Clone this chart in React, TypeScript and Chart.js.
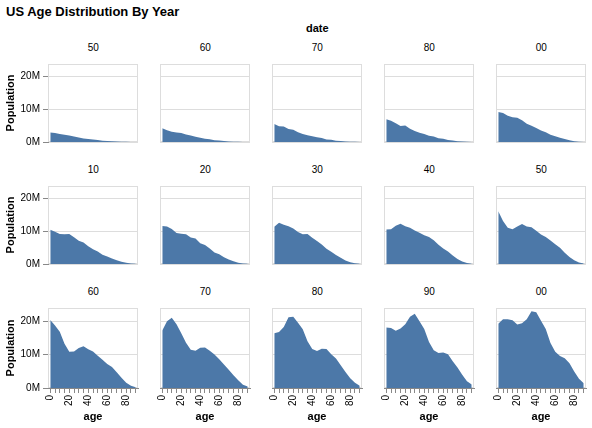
import React, { useEffect, useRef } from "react";
import { Chart, registerables } from "chart.js";

Chart.register(...registerables);

// ---- data (population in millions, summed over sex) ----
const ages = [0, 5, 10, 15, 20, 25, 30, 35, 40, 45, 50, 55, 60, 65, 70, 75, 80, 85, 90];
const yearLabels = ["50", "60", "70", "80", "00", "10", "20", "30", "40", "50", "60", "70", "80", "90", "00"];

const pop1850 = [2.93, 2.77, 2.48, 2.19, 2.02, 1.66, 1.37, 1.09, 0.90, 0.73, 0.61, 0.38, 0.34, 0.21, 0.15, 0.08, 0.046, 0.019, 0.012];
const pop1860 = [4.21, 3.58, 3.15, 2.93, 2.72, 2.33, 1.98, 1.60, 1.32, 1.03, 0.83, 0.54, 0.45, 0.29, 0.19, 0.11, 0.06, 0.027, 0.017];
const pop1870 = [5.52, 4.82, 4.77, 4.02, 3.73, 3.00, 2.45, 2.05, 1.80, 1.42, 1.20, 0.80, 0.67, 0.40, 0.28, 0.16, 0.09, 0.04, 0.02];
const pop1880 = [6.96, 6.48, 5.73, 4.93, 5.06, 4.07, 3.34, 2.82, 2.46, 1.94, 1.72, 1.16, 0.99, 0.64, 0.45, 0.24, 0.14, 0.055, 0.029];
const pop1900 = [9.21, 8.86, 8.06, 7.58, 7.45, 6.63, 5.58, 4.98, 4.27, 3.52, 2.98, 2.23, 1.80, 1.31, 0.89, 0.53, 0.26, 0.09, 0.035];
const pop1910 = [10.48, 9.89, 9.23, 9.12, 9.21, 8.18, 7.10, 6.62, 5.41, 4.51, 3.86, 2.81, 2.31, 1.66, 1.18, 0.71, 0.36, 0.14, 0.05];
const pop1920 = [11.63, 11.48, 10.69, 9.50, 9.29, 9.09, 8.09, 7.80, 6.38, 5.81, 4.75, 3.56, 2.97, 2.09, 1.40, 0.86, 0.40, 0.16, 0.054];
const pop1930 = [11.44, 12.61, 12.00, 11.55, 10.87, 9.83, 9.12, 9.21, 8.06, 7.03, 5.98, 4.65, 3.75, 2.77, 1.93, 1.10, 0.54, 0.20, 0.07];
const pop1940 = [10.54, 10.68, 11.75, 12.33, 11.59, 11.10, 10.24, 9.55, 8.79, 8.26, 7.26, 5.87, 4.73, 3.81, 2.57, 1.50, 0.77, 0.28, 0.09];
const pop1950 = [16.16, 13.20, 11.12, 10.62, 11.48, 12.24, 11.52, 11.25, 10.20, 9.07, 8.27, 7.23, 6.06, 4.98, 3.42, 2.15, 1.13, 0.43, 0.15];
const pop1960 = [20.32, 18.69, 16.77, 13.22, 10.80, 10.87, 11.95, 12.51, 11.57, 10.93, 9.61, 8.43, 7.14, 6.26, 4.74, 3.05, 1.58, 0.68, 0.25];
const pop1970 = [17.16, 19.97, 21.0, 19.08, 16.38, 13.49, 11.44, 11.11, 11.99, 12.12, 11.10, 9.98, 8.62, 6.99, 5.44, 3.83, 2.28, 1.00, 0.43];
const pop1980 = [16.35, 16.70, 18.24, 21.17, 21.32, 19.52, 17.56, 13.97, 11.67, 11.09, 11.71, 11.62, 10.09, 8.78, 6.80, 4.79, 2.94, 1.55, 0.69];
const pop1990 = [18.10, 17.90, 17.11, 17.75, 19.02, 21.31, 22.20, 19.96, 17.62, 13.74, 11.31, 10.49, 10.62, 10.11, 7.99, 6.12, 3.93, 2.05, 1.03];
const pop2000 = [19.18, 20.55, 20.53, 20.22, 18.96, 19.38, 20.51, 22.90, 22.60, 20.09, 17.59, 13.47, 10.81, 9.53, 8.86, 7.42, 4.95, 2.79, 1.45];

const series = [
  pop1850, pop1860, pop1870, pop1880, pop1900,
  pop1910, pop1920, pop1930, pop1940, pop1950,
  pop1960, pop1970, pop1980, pop1990, pop2000,
];

const yTicks = [0, 10, 20];

// ---- layout / style ----
const FONT = "'Liberation Sans', Arial, Helvetica, sans-serif";
const AREA = "#4c78a8";
const GRID = "#ddd";
const AXIS = "#888";
const PANEL_W = 90;
const PANEL_H = 80;
const COL_X = [48.3, 160.3, 272.3, 384.3, 496.3];
const ROW_Y = [64.3, 186.3, 308.3];

Chart.defaults.font.family = FONT;

const framePlugin = {
  id: "frame",
  beforeDatasetsDraw(chart: any) {
    const { ctx, chartArea: a } = chart;
    ctx.save();
    ctx.strokeStyle = GRID;
    ctx.lineWidth = 1;
    ctx.strokeRect(a.left + 0.5, a.top + 0.5, a.right - a.left - 1, a.bottom - a.top - 1);
    ctx.restore();
  },
};

function Panel({ idx }: { idx: number }) {
  const ref = useRef<HTMLCanvasElement | null>(null);
  const row = Math.floor(idx / 5);
  const col = idx % 5;
  const L = col === 0 ? 48 : 8;
  const R = 4;
  const T = 2;
  const B = row === 2 ? 38 : 2;
  const w = L + PANEL_W + R;
  const h = T + PANEL_H + B;

  useEffect(() => {
    if (!ref.current) return;
    const vals = series[idx];
    const chart = new Chart(ref.current, {
      type: "line",
      data: {
        datasets: [
          {
            data: ages.map((a, i) => ({ x: a, y: vals[i] })),
            fill: "origin",
            backgroundColor: AREA,
            borderColor: AREA,
            borderWidth: 0,
            pointRadius: 0,
            tension: 0,
          },
        ],
      },
      options: {
        animation: false,
        responsive: false,
        events: [],
        layout: { padding: { top: T, right: R, left: 0, bottom: row === 2 ? 0 : B } },
        plugins: { legend: { display: false }, tooltip: { enabled: false } },
        scales: {
          x: {
            type: "linear",
            display: row === 2,
            min: -2.4,
            max: 92.4,
            afterFit: (s: any) => {
              s.height = B;
              s.paddingLeft = 0;
              s.paddingRight = 0;
              s.paddingTop = 0;
              s.paddingBottom = 0;
            },
            ticks: {
              stepSize: 5,
              includeBounds: false,
              autoSkip: false,
              minRotation: 90,
              maxRotation: 90,
              padding: 2,
              color: "#000",
              font: { size: 10, family: FONT },
              callback: (v: any) => (Number(v) % 20 === 0 ? String(v) : ""),
            },
            grid: {
              display: true,
              drawOnChartArea: false,
              drawTicks: true,
              tickLength: 5,
              tickColor: AXIS,
              color: AXIS,
            },
            border: { display: true, color: AXIS, width: 1 },
            title: {
              display: true,
              text: "age",
              color: "#000",
              font: { size: 11, weight: "bold", family: FONT },
              padding: { top: 0, bottom: 2 },
            },
          },
          y: {
            type: "linear",
            min: 0,
            max: 23.9,
            afterFit: (s: any) => {
              s.width = L;
              s.paddingLeft = 0;
              s.paddingRight = 0;
              s.paddingTop = 0;
              s.paddingBottom = 0;
            },
            afterBuildTicks: (s: any) => {
              s.ticks = yTicks.map((v) => ({ value: v }));
            },
            ticks: {
              display: col === 0,
              includeBounds: false,
              padding: 3,
              color: "#000",
              font: { size: 10, family: FONT },
              callback: (v: any) => `${v}M`,
            },
            grid: {
              display: true,
              drawOnChartArea: true,
              drawTicks: col === 0,
              tickLength: 5,
              color: GRID,
              tickColor: AXIS,
            },
            border: { display: col === 0, color: AXIS, width: 1 },
            title: {
              display: col === 0,
              text: "Population",
              color: "#000",
              font: { size: 11, weight: "bold", family: FONT },
              padding: { top: 4, bottom: 0 },
            },
          },
        },
      },
      plugins: [framePlugin],
    } as any);
    return () => chart.destroy();
  }, [idx]);

  return (
    <canvas
      ref={ref}
      width={w}
      height={h}
      style={{
        position: "absolute",
        left: COL_X[col] - L,
        top: ROW_Y[row] - T,
        width: w,
        height: h,
      }}
    />
  );
}

export default function App() {
  const textBase: React.CSSProperties = {
    position: "absolute",
    fontFamily: FONT,
    lineHeight: 1,
    whiteSpace: "nowrap",
    color: "#000",
  };
  return (
    <div
      style={{
        position: "absolute",
        left: 0,
        top: 0,
        width: 592,
        height: 428,
        background: "#fff",
        overflow: "hidden",
      }}
    >
      <div style={{ ...textBase, left: 6, top: 11, transform: "translateY(-50%)", fontSize: 13, fontWeight: "bold" }}>
        US Age Distribution By Year
      </div>
      <div
        style={{
          ...textBase,
          left: (COL_X[0] + COL_X[4] + PANEL_W) / 2,
          top: 27.5,
          transform: "translate(-50%, -50%)",
          fontSize: 11,
          fontWeight: "bold",
        }}
      >
        date
      </div>
      {yearLabels.map((lab, i) => {
        const row = Math.floor(i / 5);
        const col = i % 5;
        return (
          <div
            key={i}
            style={{
              ...textBase,
              left: COL_X[col] + PANEL_W / 2,
              top: ROW_Y[row] - 16,
              transform: "translate(-50%, -50%)",
              fontSize: 10,
            }}
          >
            {lab}
          </div>
        );
      })}
      {series.map((_, i) => (
        <Panel key={i} idx={i} />
      ))}
    </div>
  );
}
